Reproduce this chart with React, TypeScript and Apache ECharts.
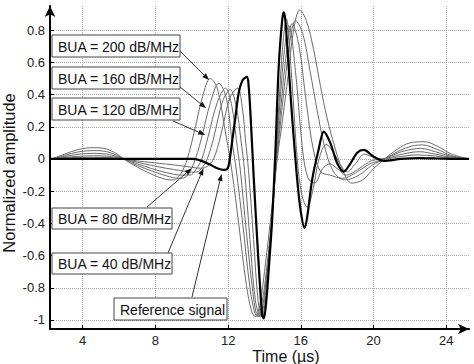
import React, { useEffect, useRef } from "react";
import * as echarts from "echarts";

// ---- Axis ticks ----
const xTicks = [4, 8, 12, 16, 20, 24];
const yTicks = [-1, -0.8, -0.6, -0.4, -0.2, 0, 0.2, 0.4, 0.6, 0.8];

// ---- Series (time in µs, normalized amplitude) ----
const referenceSignal = [
  [2.2, 0], [4, 0], [6, 0], [8, 0], [9.5, 0], [10.1, 0], [10.6, -0.015], [11.0, -0.035], [11.4, -0.058],
  [11.75, -0.068], [11.95, -0.062], [12.05, -0.03], [12.21, 0.1], [12.4, 0.26], [12.58, 0.41], [12.8, 0.49],
  [13.04, 0.51], [13.13, 0.45], [13.22, 0.3], [13.4, -0.1], [13.65, -0.6], [13.87, -0.97], [13.96, -0.99],
  [14.1, -0.88], [14.23, -0.69], [14.42, -0.38], [14.6, 0.05], [14.78, 0.57], [14.97, 0.86], [15.06, 0.91],
  [15.15, 0.86], [15.33, 0.57], [15.52, 0.26], [15.8, -0.13], [16.0, -0.33], [16.21, -0.43], [16.35, -0.36],
  [16.62, -0.13], [16.98, 0.06], [17.26, 0.17], [17.63, 0.097], [18.0, -0.027], [18.36, -0.079], [18.73, -0.027],
  [19.1, 0.039], [19.46, 0.056], [20.01, 0.014], [20.56, -0.012], [21.5, 0], [22.5, 0.005], [23.5, 0.003],
  [24.5, 0], [25.25, 0],
];

const bua40 = [
  [2.3, 0], [3.0, 0.005], [3.8, 0.009], [4.6, 0.01], [5.3, 0.009], [5.9, 0.004], [6.25, 0], [7.0, -0.012],
  [7.8, -0.022], [8.6, -0.032], [9.4, -0.042], [10.0, -0.052], [10.5, -0.058], [10.85, -0.045], [11.2, 0],
  [11.6, 0.15], [12.1, 0.38], [12.52, 0.44], [12.8, 0.3], [12.95, 0.12], [13.12, -0.07], [13.4, -0.5],
  [13.65, -0.88], [13.87, -0.98], [14.05, -0.88], [14.25, -0.64], [14.45, -0.33], [14.62, 0], [14.8, 0.35],
  [15.0, 0.7], [15.2, 0.87], [15.5, 0.5], [15.8, 0.0], [16.05, -0.22], [16.35, -0.3], [16.65, -0.2], [17.0, 0.0],
  [17.4, 0.09], [17.8, 0.04], [18.2, -0.04], [18.55, -0.08], [19.0, -0.03], [19.5, 0.03], [20.0, 0.01],
  [20.6, 0], [21.5, 0.015], [22.4, 0.025], [23.4, 0.018], [24.3, 0.005], [25.25, 0],
];

const bua80 = [
  [2.3, 0], [3.0, 0.009], [3.8, 0.017], [4.6, 0.02], [5.3, 0.018], [5.9, 0.009], [6.25, 0], [7.0, -0.02],
  [7.8, -0.04], [8.6, -0.058], [9.4, -0.072], [10.0, -0.082], [10.3, -0.08], [10.6, -0.05], [10.85, 0],
  [11.2, 0.13], [11.7, 0.36], [12.12, 0.43], [12.45, 0.32], [12.7, 0.12], [12.9, -0.07], [13.2, -0.5],
  [13.5, -0.88], [13.78, -0.98], [14.0, -0.88], [14.2, -0.65], [14.42, -0.36], [14.64, 0], [14.85, 0.35],
  [15.1, 0.68], [15.33, 0.83], [15.7, 0.55], [16.1, 0.05], [16.4, -0.12], [16.75, -0.15], [17.2, -0.06],
  [17.6, -0.03], [18.0, -0.06], [18.5, -0.1], [19.2, -0.06], [19.9, -0.01], [20.6, 0], [21.4, 0.025],
  [22.5, 0.045], [23.4, 0.03], [24.3, 0.01], [25.25, 0],
];

const bua120 = [
  [2.3, 0], [3.0, 0.015], [3.8, 0.03], [4.6, 0.035], [5.3, 0.031], [5.9, 0.015], [6.25, 0], [7.0, -0.03],
  [7.8, -0.06], [8.6, -0.085], [9.4, -0.1], [9.9, -0.1], [10.2, -0.07], [10.55, 0], [10.9, 0.14], [11.4, 0.35],
  [11.85, 0.44], [12.2, 0.33], [12.45, 0.12], [12.67, -0.07], [13.0, -0.45], [13.35, -0.82], [13.55, -0.96],
  [13.7, -0.98], [13.92, -0.9], [14.15, -0.68], [14.4, -0.38], [14.66, 0], [14.9, 0.32], [15.2, 0.65],
  [15.52, 0.84], [15.9, 0.7], [16.3, 0.35], [16.7, 0.05], [17.1, -0.08], [17.6, -0.1], [18.3, -0.12],
  [19.1, -0.08], [19.8, -0.03], [20.6, 0], [21.4, 0.04], [22.1, 0.06], [22.6, 0.066], [23.4, 0.045],
  [24.3, 0.015], [25.25, 0],
];

const bua160 = [
  [2.3, 0], [3.0, 0.022], [3.8, 0.045], [4.6, 0.052], [5.3, 0.046], [5.9, 0.022], [6.25, 0], [7.0, -0.04],
  [7.8, -0.075], [8.6, -0.105], [9.3, -0.12], [9.7, -0.11], [10.2, 0], [10.6, 0.16], [11.0, 0.34],
  [11.48, 0.47], [11.9, 0.38], [12.2, 0.12], [12.45, -0.07], [12.8, -0.4], [13.2, -0.8], [13.45, -0.95],
  [13.6, -0.98], [13.85, -0.9], [14.1, -0.7], [14.4, -0.37], [14.68, 0], [14.95, 0.3], [15.25, 0.6],
  [15.5, 0.8], [15.7, 0.86], [16.1, 0.78], [16.5, 0.55], [16.9, 0.3], [17.3, 0.08], [17.8, -0.08],
  [18.45, -0.13], [19.2, -0.1], [19.9, -0.04], [20.6, 0], [21.4, 0.05], [22.1, 0.08], [22.7, 0.087],
  [23.5, 0.06], [24.3, 0.02], [25.25, 0],
];

const bua200 = [
  [2.3, 0], [3.0, 0.03], [3.8, 0.06], [4.6, 0.07], [5.3, 0.062], [5.9, 0.03], [6.25, 0], [7.0, -0.05],
  [7.8, -0.095], [8.5, -0.125], [9.0, -0.13], [9.4, -0.09], [9.75, 0], [10.2, 0.2], [10.6, 0.39],
  [11.02, 0.5], [11.4, 0.44], [11.8, 0.2], [12.2, -0.07], [12.6, -0.42], [13.0, -0.78], [13.3, -0.95],
  [13.5, -0.98], [13.75, -0.9], [14.0, -0.7], [14.35, -0.36], [14.7, 0], [15.0, 0.25], [15.3, 0.52],
  [15.6, 0.8], [15.94, 0.925], [16.3, 0.86], [16.7, 0.68], [17.0, 0.5], [17.35, 0.3], [17.8, 0.1],
  [18.3, -0.07], [18.8, -0.15], [19.4, -0.13], [20.0, -0.06], [20.6, 0], [21.3, 0.06], [22.0, 0.1],
  [22.8, 0.107], [23.5, 0.08], [24.3, 0.03], [25.25, 0],
];

const grayNames = ["BUA = 40 dB/MHz", "BUA = 80 dB/MHz", "BUA = 120 dB/MHz", "BUA = 160 dB/MHz", "BUA = 200 dB/MHz"];
const grayData = [bua40, bua80, bua120, bua160, bua200];

// ---- Annotations: label and the data point the arrow points to ----
const annotationLabels = ["BUA = 200 dB/MHz", "BUA = 160 dB/MHz", "BUA = 120 dB/MHz", "BUA = 80 dB/MHz", "BUA = 40 dB/MHz", "Reference signal"];
const annotationTips = [[10.95, 0.49], [10.79, 0.315], [10.74, 0.149], [10.0, -0.058], [10.64, -0.058], [11.64, -0.093]];

// Layout of annotation boxes in pixels: [x, y, w, h] and arrow start [x, y]
const BOXES = [
  { box: [52, 35, 128, 22], from: [179, 50] },
  { box: [52, 67, 128, 22], from: [180, 87] },
  { box: [52, 98, 128, 22], from: [173, 121] },
  { box: [52, 208, 120, 21], from: [147, 207] },
  { box: [52, 253, 120, 21], from: [168, 253] },
  { box: [114, 298, 113, 22], from: [192, 297] },
];

const FONT = "'Liberation Sans', Arial, Helvetica, sans-serif";

function arrowEls(from: number[], to: number[]) {
  const dx = to[0] - from[0];
  const dy = to[1] - from[1];
  const len = Math.hypot(dx, dy);
  const ux = dx / len;
  const uy = dy / len;
  const L = 7;
  const W = 2.6;
  const bx = to[0] - ux * L;
  const by = to[1] - uy * L;
  const px = -uy;
  const py = ux;
  return [
    { type: "line", z: 50, shape: { x1: from[0], y1: from[1], x2: bx, y2: by }, style: { stroke: "#333", lineWidth: 1 } },
    {
      type: "polygon",
      z: 50,
      shape: { points: [[to[0], to[1]], [bx + px * W, by + py * W], [bx - px * W, by - py * W]] },
      style: { fill: "#111" },
    },
  ];
}

export default function App() {
  const ref = useRef<HTMLDivElement>(null);
  useEffect(() => {
    const chart = echarts.init(ref.current!, null, { renderer: "svg" });
    const gridLine = { show: true, lineStyle: { color: "#a8a8a8", type: "dotted", width: 1 } };
    const option: any = {
      animation: false,
      backgroundColor: "#fff",
      grid: { left: 50, right: 5, top: 6, bottom: 35 },
      xAxis: {
        type: "value",
        min: 2.2,
        max: 25.25,
        axisLine: { onZero: false, lineStyle: { color: "#000", width: 2 }, symbol: ["none", "arrow"], symbolSize: [8, 11] },
        axisTick: { inside: true, length: 4, customValues: xTicks, lineStyle: { color: "#000" } },
        axisLabel: { customValues: xTicks, margin: 5, fontSize: 13, color: "#222", fontFamily: FONT },
        splitLine: gridLine,
      },
      yAxis: {
        type: "value",
        min: -1.056,
        max: 0.95,
        axisLine: { show: true, onZero: false, lineStyle: { color: "#000", width: 2 }, symbol: ["none", "arrow"], symbolSize: [8, 11] },
        axisTick: { show: true, inside: true, length: 4, customValues: yTicks, lineStyle: { color: "#000" } },
        axisLabel: { customValues: yTicks, margin: 5, fontSize: 13, color: "#222", fontFamily: FONT },
        splitLine: gridLine,
      },
      series: [
        ...grayData.map((d, i) => ({
          name: grayNames[i],
          type: "line",
          data: d,
          showSymbol: false,
          smooth: 0.35,
          lineStyle: { color: "#6a6a6a", width: 1 },
          z: 2,
        })),
        {
          name: "Reference signal",
          type: "line",
          data: referenceSignal,
          showSymbol: false,
          smooth: 0.3,
          lineStyle: { color: "#000", width: 2.2 },
          z: 3,
        },
      ],
    };
    chart.setOption(option);

    const graphics: any[] = [];
    BOXES.forEach((b, i) => {
      const [x, y, w, h] = b.box;
      const tip = chart.convertToPixel({ xAxisIndex: 0, yAxisIndex: 0 }, annotationTips[i]) as number[];
      graphics.push(...arrowEls(b.from, tip));
      graphics.push({
        type: "rect",
        z: 60,
        shape: { x, y, width: w, height: h },
        style: { fill: "#fff", stroke: "#444", lineWidth: 1 },
      });
      graphics.push({
        type: "text",
        z: 61,
        x: x + 6,
        y: y + h / 2 + 0.5,
        style: { text: annotationLabels[i], fontSize: 14, fill: "#111", fontFamily: FONT, verticalAlign: "middle", align: "left" },
      });
    });
    graphics.push({
      type: "text",
      x: 286,
      y: 364,
      style: { text: "Time (µs)", fontSize: 16, fill: "#111", fontFamily: FONT, align: "center", verticalAlign: "bottom" },
    });
    graphics.push({
      type: "text",
      x: 9,
      y: 173,
      rotation: Math.PI / 2,
      style: { text: "Normalized amplitude", fontSize: 16.5, fill: "#111", fontFamily: FONT, align: "center", verticalAlign: "middle" },
    });
    chart.setOption({ graphic: graphics });
    return () => chart.dispose();
  }, []);
  return <div ref={ref} style={{ position: "absolute", left: 0, top: 0, width: 474, height: 364 }} />;
}
